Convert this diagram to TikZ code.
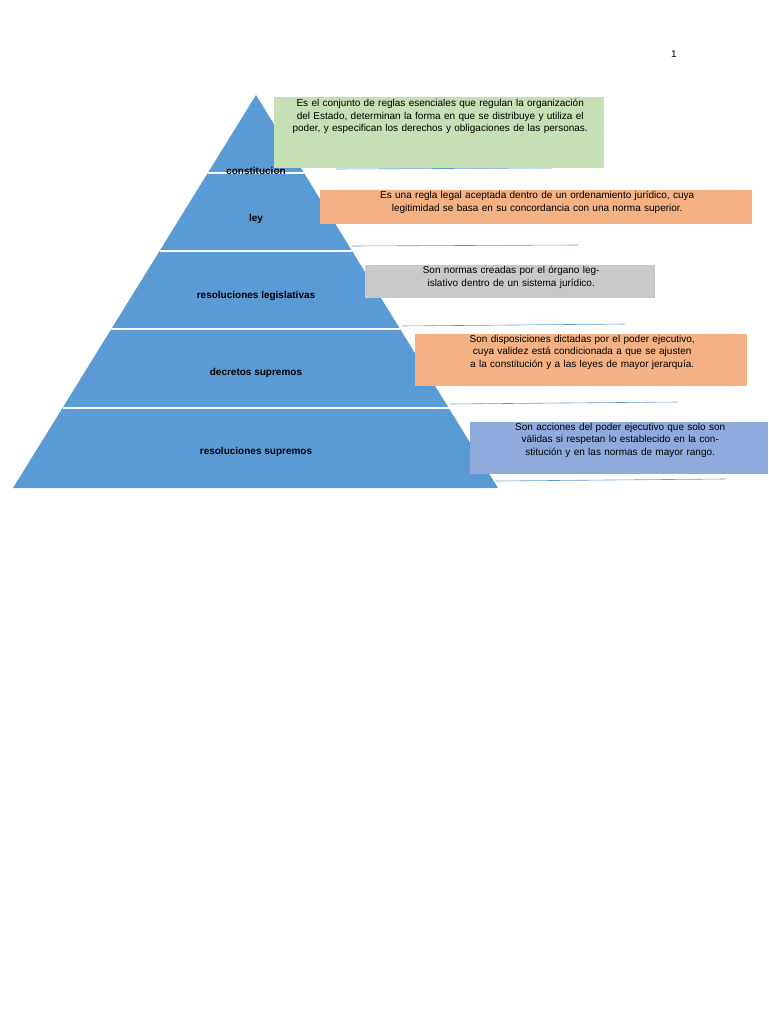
\documentclass[tikz,border=0pt]{standalone}
\usepackage{fontspec}
\setmainfont{Liberation Sans}
\begin{document}
\begin{tikzpicture}[x=1pt,y=-1pt,
  layer/.style={fill=pyr,draw=white,line width=1.2pt},
  lab/.style={font=\fontsize{10}{12}\selectfont\bfseries},
  desc/.style={anchor=north west,inner sep=1pt,align=center,font=\fontsize{10}{12.5}\selectfont},
  uline/.style={draw=pyr,line width=0.6pt}]
\definecolor{pyr}{HTML}{5B9BD5}
\definecolor{gr}{HTML}{C5E0B4}
\definecolor{orn}{HTML}{F4B183}
\definecolor{gry}{HTML}{C9C9C9}
\definecolor{bl}{HTML}{8FAADC}
\useasboundingbox (0,0) rectangle (768,1024);
\node (pg) at (674,54) {\fontsize{10}{12}\selectfont 1};
% pyramid
\fill[pyr] (256,95) -- (498,488) -- (13,488) -- cycle;
\foreach \y in {173,251,329,408}{
  \draw[white,line width=1.2pt] ({256-(\y-95)*0.618},\y) -- ({256+(\y-95)*0.616},\y);}
\node[lab] (l1) at (256,171) {constitucion};
\node[lab] (l2) at (256,219) {ley};
\node[lab] (l3) at (256,296) {resoluciones legislativas};
\node[lab] (l4) at (256,373) {decretos supremos};
\node[lab] (l5) at (256,452) {resoluciones supremos};
% lines
\coordinate (a1) at (352,246); \coordinate (b1) at (578,245);
\coordinate (a2) at (402,326); \coordinate (b2) at (625,324);
\coordinate (a3) at (450,404); \coordinate (b3) at (678,402);
\coordinate (a4) at (496,481); \coordinate (b4) at (725,479);
\coordinate (a0) at (336,169); \coordinate (b0) at (552,168);
\draw[uline] (a0)--(b0); \draw[uline] (a1)--(b1); \draw[uline] (a2)--(b2);
\draw[uline] (a3)--(b3); \draw[uline] (a4)--(b4);
% boxes
\fill[gr] (274,97) rectangle (604,168);
\node[desc,text width=328pt] (d1) at (275,98) {Es el conjunto de reglas esenciales que regulan la organización del Estado, determinan la forma en que se distribuye y utiliza el poder, y especifican los derechos y obligaciones de las personas.};
\fill[orn] (320,190) rectangle (752,224);
\node[desc,text width=430pt] (d2) at (321,190) {Es una regla legal aceptada dentro de un ordenamiento jurídico, cuya legitimidad se basa en su concordancia con una norma superior.};
\fill[gry] (365,265) rectangle (655,298);
\node[desc,text width=288pt] (d3) at (366,265) {Son normas creadas por el órgano legislativo dentro de un sistema jurídico.};
\fill[orn] (415,334) rectangle (747,386);
\node[desc,text width=330pt] (d4) at (416,334) {Son disposiciones dictadas por el poder ejecutivo, cuya validez está condicionada a que se ajusten a la constitución y a las leyes de mayor jerarquía.};
\fill[bl] (470,422) rectangle (768,474);
\node[desc,text width=296pt] (d5) at (471,422) {Son acciones del poder ejecutivo que solo son válidas si respetan lo establecido en la constitución y en las normas de mayor rango.};
\end{tikzpicture}
\end{document}
